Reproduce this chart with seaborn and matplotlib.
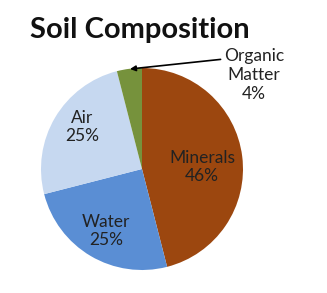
import matplotlib
matplotlib.use("Agg")
import matplotlib.pyplot as plt
import seaborn as sns

categories = ["Minerals", "Water", "Air", "Organic Matter"]
values = [46, 25, 25, 4]
colors = ["#9C470F", "#5A8ED4", "#C6D8F0", "#76923C"]

sns.set_theme(style="white")
plt.rcParams['font.family'] = ['Lato', 'DejaVu Sans']

W, H = 327, 293
fig = plt.figure(figsize=(W / 100, H / 100), dpi=100)
cx, cy, r = 142, 169, 101
ax = fig.add_axes([(cx - r) / W, (H - cy - r) / H, 2 * r / W, 2 * r / H])
ax.pie(values, colors=colors, startangle=90, counterclock=False,
       wedgeprops=dict(linewidth=0))
ax.set_xlim(-1, 1)
ax.set_ylim(-1, 1)
ax.set_aspect("equal")
ax.axis("off")

def d(px, py):
    return ((px - cx) / r, (cy - py) / r)

tc = "#222222"
fs = 12.5
pos = {"Minerals": (202, 167), "Water": (106, 231), "Air": (82, 127)}
for name, v in zip(categories, values):
    if name in pos:
        ax.text(*d(*pos[name]), f"{name}\n{v}%", ha="center", va="center",
                fontsize=fs, color=tc, linespacing=1.2)

ax.annotate(f"Organic\nMatter\n{values[3]}%", xy=d(130, 69), xytext=d(254, 75),
            ha="center", va="center", fontsize=fs, color=tc, linespacing=1.2,
            annotation_clip=False,
            arrowprops=dict(arrowstyle="-|>", color="black", lw=1.2,
                            shrinkA=0, shrinkB=0, mutation_scale=8,
                            relpos=(0.0, 0.8)))

fig.text(140 / W, 1 - 30 / H, "Soil Composition", ha="center", va="center",
         fontsize=21, fontweight="bold", color="#111111")

fig.savefig("out.png", dpi=100)
